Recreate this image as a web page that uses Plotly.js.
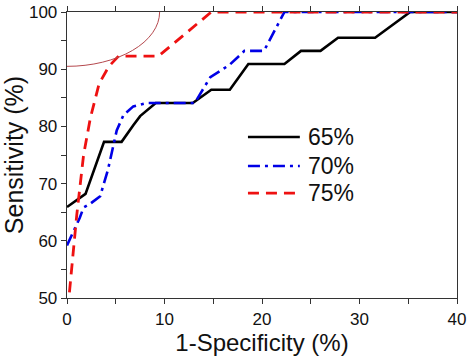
<!DOCTYPE html>
<html>
<head>
<meta charset="utf-8">
<script src="https://cdn.plot.ly/plotly-3.0.1.min.js"></script>
<style>html,body{margin:0;padding:0;background:#fff;}#chart{width:474px;height:361px;}</style>
</head>
<body>
<div id="chart"></div>
<script>
// Series data (1-Specificity %, Sensitivity %)
const names = ["65%", "70%", "75%"];
const x65 = [0, 1.9, 3.8, 5.6, 6.8, 7.5, 9.1, 12.9, 14.8, 16.7, 18.6, 22.3, 24.0, 26.0, 27.8, 31.6, 35.2, 40];
const y65 = [65.9, 68.2, 77.3, 77.3, 80.2, 81.8, 84.1, 84.1, 86.4, 86.4, 90.9, 90.9, 93.2, 93.2, 95.5, 95.5, 100, 100];
const x70 = [0, 0.6, 1.3, 1.7, 2.4, 3.4, 4.2, 5.1, 5.8, 6.8, 8.2, 13.1, 14.3, 14.7, 16.7, 18.2, 20.2, 22.3, 40];
const y70 = [59.2, 61.4, 64.0, 65.8, 66.5, 67.8, 72.4, 79.3, 82.0, 83.5, 84.1, 84.1, 87.5, 88.6, 90.8, 93.2, 93.2, 100, 100];
const x75 = [0.25, 1.0, 1.7, 2.4, 3.3, 4.3, 5.3, 9.4, 14.8, 40];
const y75 = [51.0, 64.5, 75.0, 81.5, 87.5, 90.5, 92.3, 92.3, 100, 100];
// Reference arc (circle centred at the top-left corner)
const arcX = [-9.5, 9.5];
const arcY = [90.5, 109.5];
const xTicks = [0, 10, 20, 30, 40];
const yTicks = [50, 60, 70, 80, 90, 100];

const FONT = "Liberation Sans, Arial, sans-serif";
const styles = [
  {color: "#000000", width: 2.6, dash: "solid"},
  {color: "#0000e6", width: 2.6, dash: "12px,5px,3px,5px"},
  {color: "#ee1111", width: 2.8, dash: "11px,7px"}
];
const xs = [x65, x70, x75];
const ys = [y65, y70, y75];

const traces = names.map((n, i) => ({
  x: xs[i], y: ys[i], name: n, mode: "lines", line: styles[i], showlegend: false
}));

// Hand-placed legend (paper coordinates)
const legRowY = [0.563, 0.4615, 0.367];
const legX0 = 0.464, legX1 = 0.597, legTextX = 0.612;
const shapes = [{
  type: "circle", xref: "x", yref: "y",
  x0: arcX[0], x1: arcX[1], y0: arcY[0], y1: arcY[1],
  line: {color: "#b5484d", width: 1}, layer: "above"
}];
const annotations = [];
names.forEach((n, i) => {
  shapes.push({type: "line", xref: "paper", yref: "paper", x0: legX0, x1: legX1,
    y0: legRowY[i], y1: legRowY[i], line: styles[i]});
  annotations.push({xref: "paper", yref: "paper", x: legTextX, y: legRowY[i],
    xanchor: "left", yanchor: "middle", showarrow: false, text: n,
    font: {family: FONT, size: 23, color: "#111111"}});
});

const axisCommon = {
  showgrid: false, zeroline: false, showline: true, linecolor: "#333333", linewidth: 1.3,
  ticks: "outside", ticklen: 5, tickwidth: 1, tickcolor: "#333333",
  tickfont: {family: FONT, size: 17, color: "#111111"}
};

const layout = {
  width: 474, height: 361,
  margin: {l: 67, r: 17, t: 12, b: 63},
  paper_bgcolor: "#ffffff", plot_bgcolor: "#ffffff",
  font: {family: FONT, color: "#111111"},
  showlegend: false,
  xaxis: Object.assign({}, axisCommon, {
    range: [0, 40], tickvals: xTicks, mirror: "ticks",
    minor: {dtick: 5, ticks: "outside", ticklen: 5, tickcolor: "#333333", showgrid: false},
    title: {text: "1-Specificity (%)", font: {family: FONT, size: 24, color: "#111111"}, standoff: 4}
  }),
  yaxis: Object.assign({}, axisCommon, {
    range: [50, 100], tickvals: yTicks, mirror: true,
    minor: {dtick: 5, ticks: "outside", ticklen: 5, tickcolor: "#333333", showgrid: false},
    title: {text: "Sensitivity (%)", font: {family: FONT, size: 25, color: "#111111"}, standoff: 6}
  }),
  shapes: shapes,
  annotations: annotations
};

Plotly.newPlot("chart", traces, layout, {staticPlot: true, displayModeBar: false});
</script>
</body>
</html>
